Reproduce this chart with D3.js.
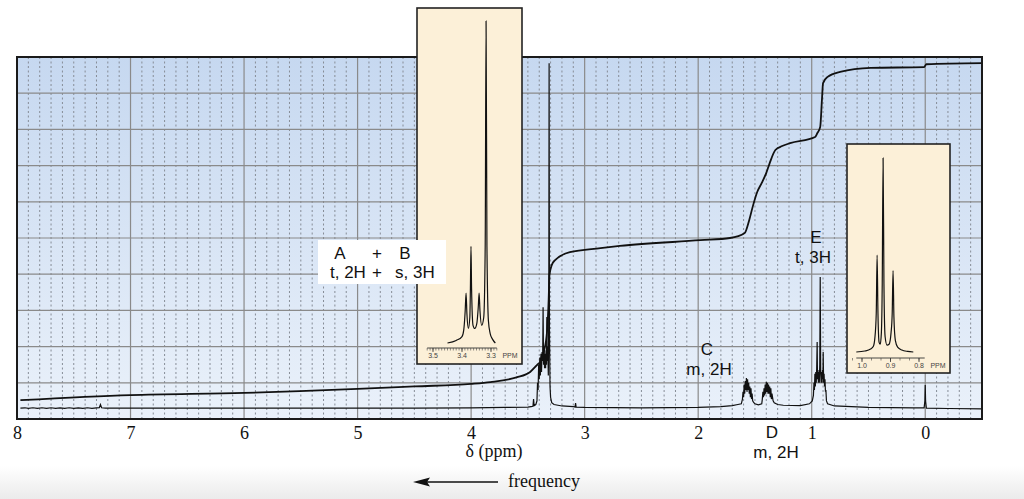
<!DOCTYPE html>
<html><head><meta charset="utf-8">
<script src="https://cdn.jsdelivr.net/npm/d3@7"></script>
<style>html,body{margin:0;padding:0;background:#fff;} svg{display:block;}</style>
</head><body>
<svg id="c" width="1024" height="499"></svg>
<script>
// ---------- data ----------
const ppmTicks = [8, 7, 6, 5, 4, 3, 2, 1, 0];
const gridRows = [1, 2, 3, 4, 5, 6, 7, 8, 9];
// main 1H spectrum trace [ppm, intensity (grid units)]
const spectrum = [
  [7.97,0.30],[7.93,0.31],[7.9,0.295],[7.86,0.31],[7.82,0.295],[7.78,0.31],[7.74,0.295],[7.7,0.31],[7.66,0.295],
  [7.62,0.305],[7.58,0.295],[7.54,0.31],[7.5,0.295],[7.46,0.305],[7.42,0.295],[7.38,0.31],[7.34,0.295],[7.3,0.305],
  [7.275,0.31],[7.265,0.40],[7.255,0.31],[7.22,0.30],[7.1,0.30],[6.5,0.30],[6.0,0.30],[5.0,0.30],[4.5,0.30],
  [4.0,0.31],[3.7,0.32],[3.5,0.33],[3.46,0.35],[3.455,0.36],[3.45,0.55],[3.445,0.37],[3.43,0.40],
  [3.42,0.5],[3.415,1.0],[3.41,0.8],[3.405,1.5],[3.40,1.1],[3.395,1.7],[3.39,1.2],[3.385,1.8],[3.38,1.3],
  [3.375,1.85],[3.37,1.6],[3.366,3.09],[3.362,1.5],[3.357,1.9],[3.353,1.4],[3.348,1.8],[3.344,1.4],[3.34,1.9],
  [3.336,1.5],[3.333,2.82],[3.33,1.6],[3.325,2.0],[3.32,1.2],[3.316,3.0],[3.313,9.83],[3.31,2.5],[3.305,0.9],
  [3.30,0.6],[3.29,0.45],[3.27,0.4],[3.2,0.36],[3.1,0.34],[3.085,0.33],[3.08,0.44],
  [3.075,0.33],[3.0,0.32],[2.5,0.31],[2.0,0.32],[1.8,0.34],[1.7,0.37],[1.65,0.40],
  [1.62,0.42],[1.61,0.55],[1.605,0.75],[1.60,0.6],[1.595,0.95],[1.59,0.7],[1.585,1.05],[1.58,0.8],[1.575,1.13],
  [1.57,0.75],[1.565,1.1],[1.56,0.8],[1.555,1.0],[1.55,0.7],[1.545,0.9],[1.54,0.6],[1.535,0.85],[1.53,0.55],
  [1.525,0.7],[1.52,0.5],[1.51,0.45],[1.50,0.42],[1.47,0.39],
  [1.44,0.42],[1.435,0.55],[1.43,0.75],[1.425,0.6],[1.42,0.85],[1.415,0.65],[1.41,0.95],[1.405,0.7],[1.40,1.02],
  [1.395,0.75],[1.39,1.0],[1.385,0.7],[1.38,0.95],[1.375,0.7],[1.37,0.9],[1.365,0.6],[1.36,0.85],[1.355,0.55],
  [1.35,0.7],[1.34,0.5],[1.33,0.45],[1.30,0.4],[1.25,0.38],[1.1,0.37],[1.02,0.42],
  [0.995,0.5],[0.985,0.65],[0.98,1.0],[0.976,0.8],[0.972,1.25],[0.968,0.9],[0.964,1.3],[0.96,1.0],[0.956,1.4],
  [0.952,2.13],[0.949,1.1],[0.945,1.35],[0.941,1.0],[0.937,1.3],[0.933,1.0],[0.929,1.5],[0.925,3.92],[0.921,1.3],
  [0.917,1.0],[0.913,1.3],[0.909,1.0],[0.905,1.35],[0.901,1.1],[0.899,1.85],[0.895,1.0],[0.891,1.25],[0.887,0.9],
  [0.883,1.1],[0.879,0.75],[0.875,0.8],[0.87,0.5],[0.86,0.42],[0.8,0.36],[0.5,0.32],[0.1,0.31],[0.01,0.31],
  [0.003,0.5],[0.0,0.94],[-0.003,0.5],[-0.01,0.30],[-0.2,0.29],[-0.5,0.28]
];
// integral trace [ppm, grid units]
const integral = [
  [7.97,0.52],[7.0,0.66],[6.0,0.72],[5.51,0.77],[5.0,0.83],[4.5,0.9],[4.0,0.97],[3.83,1.02],[3.6,1.15],
  [3.48,1.30],[3.42,1.49],[3.38,1.63],[3.36,1.85],[3.33,2.46],[3.317,3.29],[3.31,3.98],[3.29,4.25],[3.26,4.39],
  [3.13,4.61],[2.86,4.72],[2.69,4.78],[1.98,4.94],[1.72,5.0],[1.59,5.14],[1.55,5.50],[1.52,5.86],[1.48,6.27],
  [1.44,6.52],[1.40,6.80],[1.37,7.07],[1.32,7.43],[1.26,7.54],[1.19,7.62],[0.97,7.79],[0.95,7.90],[0.925,8.07],
  [0.91,8.81],[0.90,9.28],[0.86,9.45],[0.75,9.59],[0.48,9.70],[0.01,9.72],[-0.01,9.80],[-0.5,9.83]
];
// expanded region A+B (3.3-3.5 ppm), relative intensity
const insetA = [
  [3.45,0.0],[3.42,0.008],[3.40,0.02],[3.394,0.04],[3.389,0.1],[3.386,0.155],[3.383,0.09],[3.378,0.045],
  [3.373,0.08],[3.371,0.17],[3.369,0.30],[3.367,0.17],[3.362,0.055],[3.356,0.045],[3.349,0.06],[3.344,0.11],
  [3.341,0.155],[3.338,0.1],[3.332,0.055],[3.325,0.08],[3.320,0.3],[3.317,1.0],[3.314,0.3],[3.309,0.07],
  [3.303,0.03],[3.295,0.012],[3.285,0.0]
];
// expanded region E (0.8-1.0 ppm)
const insetE = [
  [1.02,0.0],[0.99,0.005],[0.97,0.015],[0.96,0.03],[0.955,0.07],[0.95,0.2],[0.947,0.5],[0.944,0.2],[0.94,0.05],
  [0.936,0.04],[0.932,0.1],[0.929,0.35],[0.926,1.0],[0.923,0.35],[0.919,0.08],[0.912,0.035],[0.905,0.04],
  [0.898,0.1],[0.894,0.2],[0.891,0.42],[0.888,0.18],[0.883,0.06],[0.875,0.025],[0.86,0.01],[0.84,0.003],[0.82,0.0]
];
const insetATicks = [3.5, 3.4, 3.3];
const insetETicks = [1.0, 0.9, 0.8];

// ---------- drawing ----------
const svg = d3.select("#c");
const defs = svg.append("defs");
const bg = defs.append("linearGradient").attr("id","bg").attr("x1",0).attr("y1",0).attr("x2",0).attr("y2",1);
bg.append("stop").attr("offset","0%").attr("stop-color","#c6d8f0");
bg.append("stop").attr("offset","100%").attr("stop-color","#eaf1fa");
const fg = defs.append("linearGradient").attr("id","foot").attr("x1",0).attr("y1",0).attr("x2",0).attr("y2",1);
fg.append("stop").attr("offset","0%").attr("stop-color","#ffffff");
fg.append("stop").attr("offset","100%").attr("stop-color","#ebebeb");

svg.append("rect").attr("x",0).attr("y",466).attr("width",1024).attr("height",33).attr("fill","url(#foot)");

const x = d3.scaleLinear().domain([8, -0.5]).range([17, 982]);
const y = d3.scaleLinear().domain([0, 10]).range([419, 57]);
const [x0, x1] = x.range(), [y0, y1] = y.range();

svg.append("rect").attr("x",x0).attr("y",y1).attr("width",x1-x0).attr("height",y0-y1).attr("fill","url(#bg)");

// minor dashed verticals
const minor = d3.range(-5, 80).map(i => i/10).filter(v => Math.abs(v - Math.round(v)) > 1e-6);
svg.append("g").selectAll("line").data(minor).join("line")
  .attr("x1", d => x(d)).attr("x2", d => x(d)).attr("y1", y1).attr("y2", y0)
  .attr("stroke","#868c96").attr("stroke-width",1).attr("stroke-dasharray","2,2.5");
// major verticals
svg.append("g").selectAll("line").data(ppmTicks.slice(1)).join("line")
  .attr("x1", d => x(d)).attr("x2", d => x(d)).attr("y1", y1).attr("y2", y0)
  .attr("stroke","#8a8a8a").attr("stroke-width",1.2);
// horizontal lines
svg.append("g").selectAll("line").data(gridRows).join("line")
  .attr("x1", x0).attr("x2", x1).attr("y1", d => y(d)).attr("y2", d => y(d))
  .attr("stroke","#8a8a8a").attr("stroke-width",1.2);

// integral
svg.append("path").datum(integral)
  .attr("d", d3.line().x(d => x(d[0])).y(d => y(d[1])).curve(d3.curveMonotoneX))
  .attr("fill","none").attr("stroke","#111").attr("stroke-width",1.8);
// spectrum
svg.append("path").datum(spectrum)
  .attr("d", d3.line().x(d => x(d[0])).y(d => y(d[1])))
  .attr("fill","none").attr("stroke","#111").attr("stroke-width",1.2).attr("stroke-linejoin","miter");

// frame
svg.append("rect").attr("x",x0).attr("y",y1).attr("width",x1-x0).attr("height",y0-y1)
  .attr("fill","none").attr("stroke","#1a1a1a").attr("stroke-width",2);

// x axis labels
const ax = svg.append("g").attr("transform",`translate(0,${y0})`)
  .call(d3.axisBottom(x).tickValues(ppmTicks).tickSize(0).tickFormat(d3.format("d")));
ax.select(".domain").remove();
ax.selectAll("text").attr("y",20).attr("dy",0)
  .attr("font-family","'Liberation Serif','Times New Roman',serif").attr("font-size",18).attr("fill","#111");

svg.append("text").attr("x",494).attr("y",457).attr("text-anchor","middle")
  .attr("font-family","'Liberation Serif','Times New Roman',serif").attr("font-size",18).attr("fill","#111")
  .text("δ (ppm)");
svg.append("line").attr("x1",426).attr("x2",498).attr("y1",482).attr("y2",482).attr("stroke","#111").attr("stroke-width",1.6);
svg.append("path").attr("d","M413,482L430,477.5L427,482L430,486.5Z").attr("fill","#111");
svg.append("text").attr("x",508).attr("y",487)
  .attr("font-family","'Liberation Serif','Times New Roman',serif").attr("font-size",18).attr("fill","#111")
  .text("frequency");

// ---------- insets ----------
function inset(box, xs, ys, data, ticks, minorTicks, axisY, axisDom, ppmX, fs) {
  const g = svg.append("g");
  g.append("rect").attr("x",box[0]).attr("y",box[1]).attr("width",box[2]-box[0]).attr("height",box[3]-box[1])
    .attr("fill","#fcf0d8").attr("stroke","#222").attr("stroke-width",1.6);
  g.append("path").datum(data)
    .attr("d", d3.line().x(d => xs(d[0])).y(d => ys(d[1])).curve(d3.curveMonotoneX))
    .attr("fill","none").attr("stroke","#111").attr("stroke-width",1.2);
  g.append("line").attr("x1",xs(axisDom[0])).attr("x2",xs(axisDom[1])).attr("y1",axisY).attr("y2",axisY)
    .attr("stroke","#333").attr("stroke-width",0.9);
  g.append("g").selectAll("line").data(minorTicks).join("line")
    .attr("x1", d => xs(d)).attr("x2", d => xs(d)).attr("y1", axisY).attr("y2", axisY + 2.5)
    .attr("stroke","#444").attr("stroke-width",0.6);
  g.append("g").selectAll("line").data(ticks).join("line")
    .attr("x1", d => xs(d)).attr("x2", d => xs(d)).attr("y1", axisY).attr("y2", axisY + 4)
    .attr("stroke","#333").attr("stroke-width",0.8);
  g.append("g").selectAll("text").data(ticks).join("text")
    .attr("x", d => xs(d)).attr("y", axisY + 9.5).attr("text-anchor","middle")
    .attr("font-family","'Liberation Sans',Arial,sans-serif").attr("font-size",fs).attr("fill","#444")
    .text(d => d.toFixed(1));
  g.append("text").attr("x",ppmX).attr("y",axisY + 9.5).attr("text-anchor","middle")
    .attr("font-family","'Liberation Sans',Arial,sans-serif").attr("font-size",fs).attr("fill","#444").text("PPM");
}
const xa = d3.scaleLinear().domain([3.5, 3.3]).range([433, 491]);
const ya = d3.scaleLinear().domain([0, 1]).range([343, 21]);
inset([417, 8, 522, 364], xa, ya, insetA, insetATicks, d3.range(0, 25).map(i => 3.52 - i*0.01), 348, [3.52, 3.28], 510, 7);
const xe = d3.scaleLinear().domain([1.0, 0.8]).range([862, 919]);
const ye = d3.scaleLinear().domain([0, 1]).range([352, 158]);
inset([847, 144, 950, 373], xe, ye, insetE, insetETicks, d3.range(0, 8).map(i => 1.0333 - i*0.1/3), 358, [1.02, 0.78], 938, 7);

// ---------- annotations ----------
const sans = "'Liberation Sans',Arial,sans-serif";
svg.append("rect").attr("x",318).attr("y",240).attr("width",128).attr("height",44).attr("fill","#fff");
function txt(t, xx, yy, anchor) {
  svg.append("text").attr("x",xx).attr("y",yy).attr("text-anchor",anchor || "middle")
    .attr("font-family",sans).attr("font-size",17).attr("fill","#111").text(t);
}
txt("A", 340, 259); txt("+", 377, 259); txt("B", 405, 259);
txt("t, 2H", 330, 278, "start"); txt("+", 377, 278); txt("s, 3H", 395, 278, "start");
txt("E", 816, 243); txt("t, 3H", 813, 263);
txt("C", 707, 355); txt("m, 2H", 709, 375);
txt("D", 772, 438); txt("m, 2H", 776, 458);
</script>
</body></html>
